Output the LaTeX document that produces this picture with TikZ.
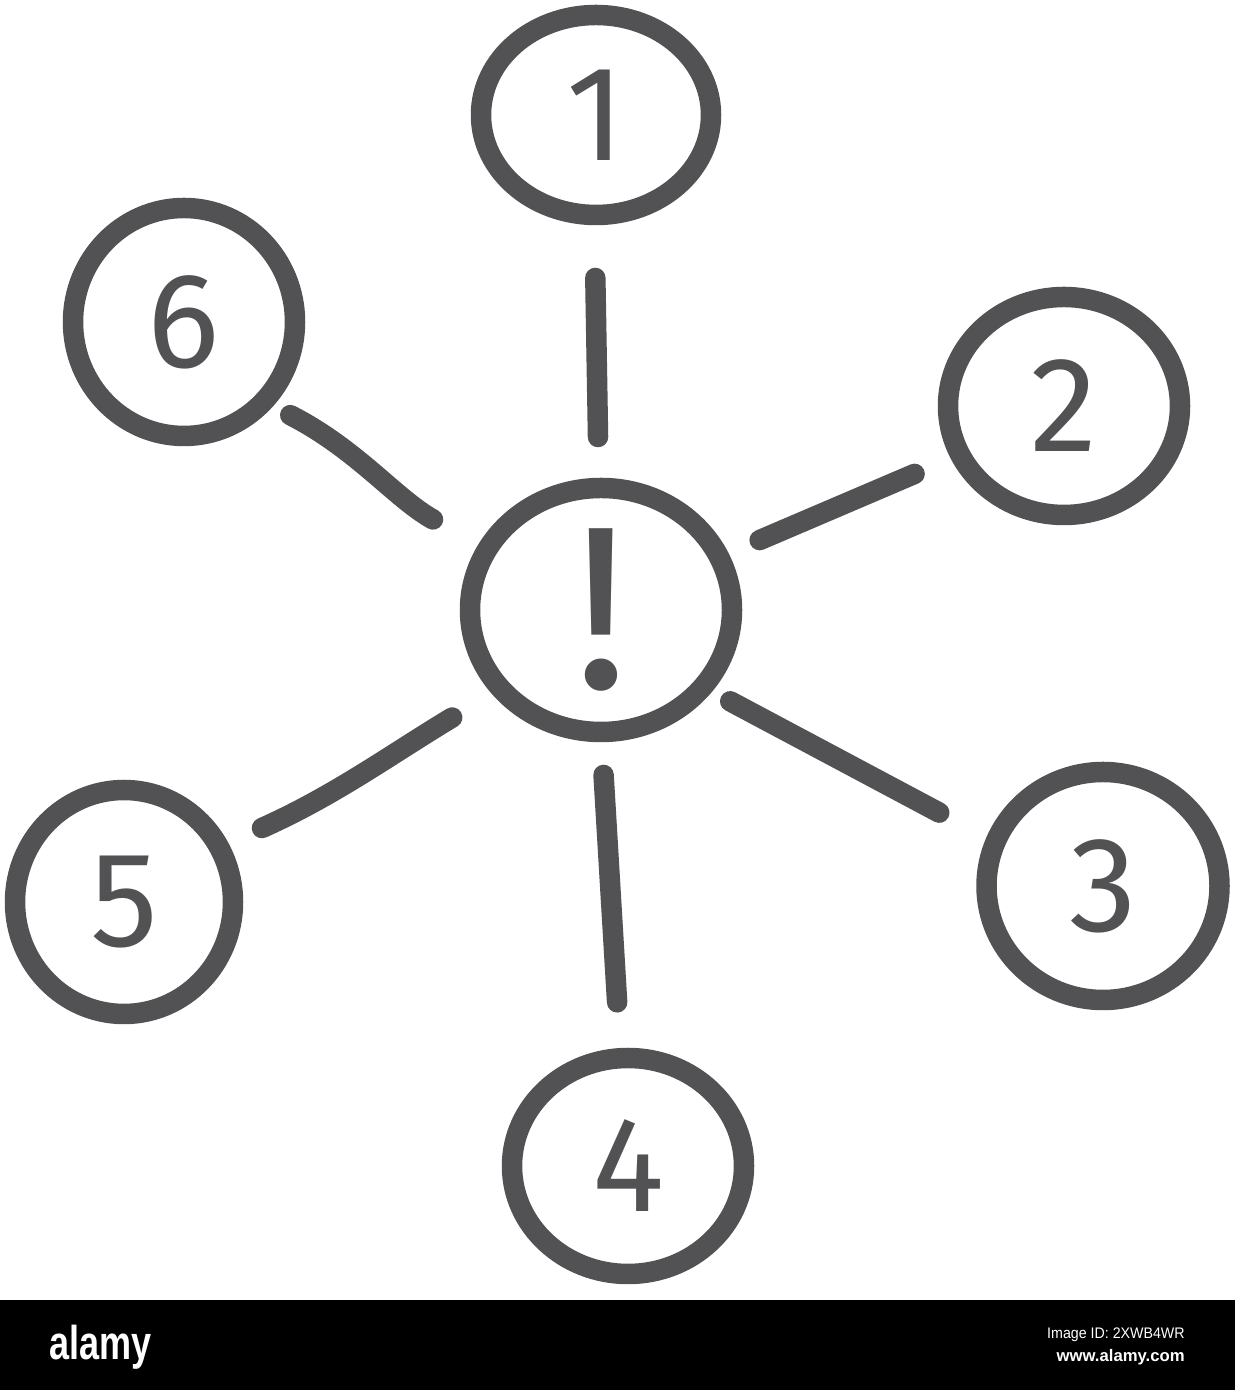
\documentclass[tikz,border=0pt]{standalone}
\usepackage{fontspec}
\setmainfont{Fira Sans}
\newfontfamily\markfont{Liberation Sans}
\usepackage{xcolor}
\definecolor{penink}{RGB}{82,82,84}
\usetikzlibrary{shapes.geometric}

\begin{document}
\begin{tikzpicture}[
  bubble/.style={ellipse, draw=penink, line width=0.41cm, inner sep=0pt,
                 outer sep=0pt, text=penink, font=\fontsize{77}{77}\selectfont},
  link/.style={draw=penink, line width=0.41cm, line cap=round},
  stamp/.style={text=white, inner sep=0pt}
]
\useasboundingbox (0,0) rectangle (24.7,27.8);
\fill[black] (0,0) rectangle (24.7,1.8);

% centre and the six numbered bubbles
\node[bubble, minimum width=5.24cm, minimum height=4.88cm,
      font=\fontsize{132}{132}\selectfont] (hub) at (12.02,15.60) {!};
\node[bubble, minimum width=4.60cm, minimum height=4.00cm] (n1) at (11.92,25.50) {1};
\node[bubble, minimum width=4.64cm, minimum height=4.36cm] (n2) at (21.28,19.68) {2};
\node[bubble, minimum width=4.66cm, minimum height=4.56cm] (n3) at (22.06,10.08) {3};
\node[bubble, minimum width=4.64cm, minimum height=4.32cm] (n4) at (12.56,4.48)  {4};
\node[bubble, minimum width=4.36cm, minimum height=4.48cm] (n5) at (2.48,9.76)   {5};
\node[bubble, minimum width=4.44cm, minimum height=4.56cm] (n6) at (3.68,21.36)  {6};

% spokes
\draw[link, shorten <=1.02cm, shorten >=1.26cm] (hub.91)  -- (n1.269);
\draw[link, shorten <=0.88cm, shorten >=0.99cm] (hub.24)  -- (n2.205);
\draw[link, shorten <=0.62cm, shorten >=1.27cm] (hub.323) -- (n3.158);
\draw[link, shorten <=0.86cm, shorten >=1.12cm] (hub.270) -- (n4.94);
\draw[link, shorten <=1.13cm, shorten >=0.94cm] (hub.218) to[out=211, in=24] (n5.30);
\draw[link, shorten <=0.60cm, shorten >=1.24cm] (n6.315) to[out=-27, in=151] (hub.152);

% watermark strip
\node[stamp, font=\markfont\bfseries\fontsize{27}{27}\selectfont, xscale=0.76,
      anchor=base west] (logo) at (0.98,0.60) {alamy};
\node[stamp, font=\markfont\fontsize{8.7}{8.7}\selectfont, xscale=0.93,
      anchor=base east] (imgid) at (23.70,1.04) {Image ID: 2XWB4WR};
\node[stamp, font=\markfont\bfseries\fontsize{9.5}{9.5}\selectfont,
      anchor=base east] (site) at (23.70,0.56) {www.alamy.com};
\end{tikzpicture}
\end{document}
